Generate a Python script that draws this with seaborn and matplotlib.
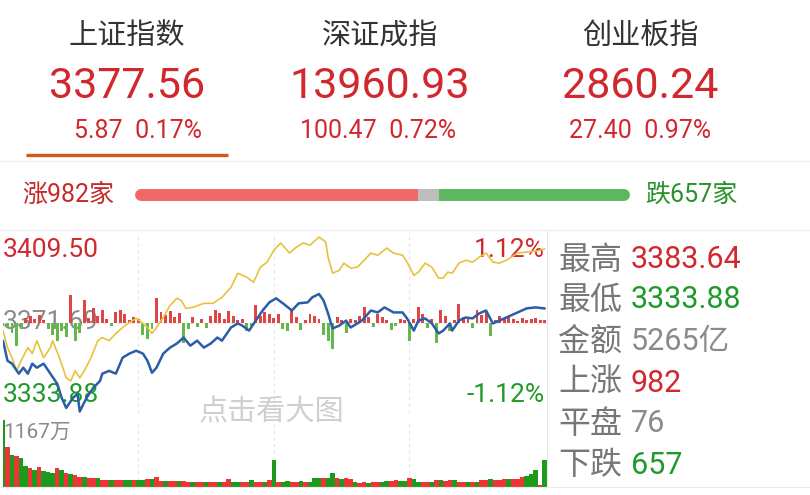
import numpy as np
import pandas as pd
import matplotlib
matplotlib.use("Agg")
import matplotlib.pyplot as plt
import seaborn as sns

# ---------------- data ----------------
index_names = ["上证指数", "深证成指", "创业板指"]
index_values = ["3377.56", "13960.93", "2860.24"]
index_changes = ["5.87  0.17%", "100.47  0.72%", "27.40  0.97%"]
up_count, flat_count, down_count = 982, 76, 657

prev_close = 3371.69
axis_high = 3409.50
axis_low = 3333.88
pct_labels = ["1.12%", "-1.12%"]
volume_max_label = "1167万"
volume_max = 1167

price_minutes = [0, 2, 4, 7, 9, 11, 13, 15, 18, 21, 24, 26, 28, 31, 33, 34, 37, 40, 43, 44,
                 47, 50, 53, 56, 59, 62, 64, 66, 68, 71, 74, 77, 80, 83, 86, 89, 92, 95, 97, 101,
                 104, 106, 109, 112, 115, 118, 121, 124, 128, 131, 135, 137, 140, 142, 144, 146, 149, 152, 154, 157,
                 159, 163, 166, 169, 173, 177, 179, 182, 184, 187, 190, 193, 195, 198, 199, 202, 205, 208, 211, 214,
                 217, 220, 223, 228, 232, 236, 240]
price_values = [3364.1, 3355.7, 3354.5, 3350.3, 3352.8, 3350.3, 3354.5, 3352.8, 3354.5, 3350.3,
                3346.1, 3340.2, 3336.0, 3340.2, 3341.9, 3334.5, 3340.2, 3344.4, 3347.3, 3350.3,
                3351.5, 3350.3, 3357.0, 3358.7, 3359.9, 3358.7, 3355.7, 3350.7, 3352.8, 3358.7,
                3361.2, 3362.9, 3365.4, 3362.0, 3364.1, 3361.2, 3362.9, 3365.4, 3364.1, 3369.6,
                3371.3, 3370.4, 3368.3, 3372.5, 3376.7, 3380.1, 3381.8, 3379.7, 3376.7, 3379.7,
                3380.1, 3382.2, 3383.6, 3380.9, 3375.5, 3369.2, 3370.4, 3372.5, 3369.6, 3371.3,
                3372.5, 3376.7, 3375.9, 3378.0, 3375.9, 3375.9, 3373.4, 3368.3, 3372.5, 3373.4,
                3371.3, 3367.1, 3368.3, 3371.3, 3368.3, 3372.5, 3373.8, 3373.4, 3375.5, 3376.7,
                3371.3, 3372.5, 3373.8, 3375.9, 3377.6, 3378.0, 3377.56]

lead_minutes = [0, 2, 4, 6, 8, 11, 13, 15, 18, 21, 22, 25, 28, 30, 32, 34, 36, 39, 42, 44,
                47, 50, 53, 56, 59, 62, 64, 66, 68, 71, 74, 77, 79, 81, 84, 89, 93, 97, 101, 104,
                108, 111, 114, 117, 120, 123, 127, 130, 133, 136, 140, 143, 144, 146, 149, 151, 154, 157, 160, 163,
                166, 170, 173, 177, 179, 182, 184, 187, 190, 193, 195, 197, 199, 202, 205, 208, 211, 214, 217, 220,
                223, 228, 232, 236, 240]
lead_values = [3368.3, 3361.2, 3357.0, 3351.5, 3355.7, 3361.2, 3358.7, 3364.1, 3357.0, 3361.2,
               3364.1, 3357.0, 3348.6, 3347.3, 3351.5, 3348.6, 3351.5, 3357.0, 3364.1, 3365.4,
               3364.1, 3367.1, 3369.6, 3371.7, 3373.4, 3371.3, 3369.6, 3367.1, 3369.6, 3373.8,
               3378.8, 3381.8, 3380.9, 3377.6, 3378.0, 3379.7, 3379.7, 3382.2, 3386.4, 3392.3,
               3390.6, 3388.5, 3394.8, 3396.9, 3401.9, 3404.9, 3400.7, 3403.2, 3404.9, 3404.0,
               3407.4, 3405.3, 3399.0, 3392.3, 3393.5, 3396.5, 3394.4, 3394.8, 3397.7, 3400.7,
               3399.8, 3402.8, 3400.7, 3399.8, 3396.9, 3391.4, 3392.7, 3396.5, 3394.8, 3390.2,
               3390.2, 3392.7, 3392.3, 3396.5, 3397.7, 3396.9, 3399.0, 3400.7, 3396.9, 3396.5,
               3397.7, 3400.7, 3401.1, 3401.5, 3402.4]

# buy/sell strength bars, one per 2 minutes
strength_values = [-3, -5, -10, -23, -6, 4, 6, 3, 7, 2,
                   -6, -12, -18, -8, -14, 27, -18, -10, 22, 4,
                   14, 6, 12, 3, -3, 10, 12, 8, 2, 5,
                   3, -12, -16, -6, 24, 10, 7, 11, 5, 9,
                   -20, -6, 5, -4, 3, -5, 6, 12, 9, 3,
                   11, 6, 2, 3, -8, -3, 17, 6, 10, 8,
                   4, 8, -6, -8, 12, 5, -7, 2, 8, 6,
                   3, -12, -18, -26, 5, 2, -10, 3, 2, 6,
                   15, 5, -4, 8, 5, 2, -7, -3, 3, 2,
                   -18, 3, 15, 8, -5, 3, -20, 12, 6, -8,
                   2, 18, 5, 4, -5, 12, 7, 10, -13, 2,
                   6, 4, 5, 3, 1, 4, 2, 3, 4, 2,
                   2]

# volume (万手), one per 2 minutes
volume_values = [1167, 700, 560, 540, 500, 370, 330, 300, 340, 270,
                 260, 250, 330, 300, 240, 220, 210, 180, 170, 160,
                 160, 150, 130, 120, 125, 115, 130, 120, 125, 118,
                 122, 125, 140, 140, 170, 105, 100, 110, 105, 100,
                 105, 90, 95, 88, 92, 90, 85, 90, 95, 92,
                 140, 90, 92, 88, 95, 120, 90, 88, 92, 120,
                 470, 95, 92, 98, 95, 90, 100, 95, 92, 160,
                 150, 165, 155, 240, 150, 145, 160, 140, 80, 75,
                 82, 78, 80, 85, 80, 110, 105, 115, 110, 108,
                 150, 145, 85, 80, 88, 82, 120, 130, 110, 125,
                 115, 90, 88, 92, 85, 90, 130, 125, 135, 128,
                 130, 140, 138, 142, 145, 170, 200, 220, 290, 40,
                 470]
volume_dirs = ("GRGRGGRGRG" "GGRGRGRRGR" "RGRRGRRGGR" "GGRGRRGRRG" "RRGRRGRRGR"
               "RGGRRGRRGR" "GRGGRRGRGG" "GRGGRGRRGR" "RGRRGGRRGG" "RGGRRGRGRR"
               "GRRGRGRRGR" "RRGRRRGGGR" "G")

stat_labels = ["最高", "最低", "金额", "上涨", "平盘", "下跌"]
stat_values = ["3383.64", "3333.88", "5265亿", "982", "76", "657"]

# ---------------- style ----------------
RED = "#d0282e"
GREEN = "#1e9a28"
GRAY = "#8a8a8a"
DARK = "#333333"
sns.set_theme(style="white")
plt.rcParams["font.family"] = ["Roboto", "Noto Sans CJK SC", "DejaVu Sans"]
plt.rcParams["axes.unicode_minus"] = False

W, H = 810, 495
fig = plt.figure(figsize=(W / 100, H / 100), dpi=100)
fig.patch.set_facecolor("white")


def fx(x):
    return x / W


def fy(y):
    return 1 - y / H


def hline(y, x0=0, x1=W, color="#ececec", lw=0.8):
    fig.add_artist(plt.Line2D([fx(x0), fx(x1)], [fy(y), fy(y)], color=color, lw=lw,
                              transform=fig.transFigure))


# ---------------- header ----------------
centers = [127, 380, 640]
change_centers = [138, 378, 640]
for i in range(3):
    fig.text(fx(centers[i]), fy(36), index_names[i], ha="center", va="center",
             fontsize=21, color=DARK)
    fig.text(fx(centers[i]), fy(86), index_values[i], ha="center", va="center",
             fontsize=31, color=RED)
    fig.text(fx(change_centers[i]), fy(131), index_changes[i], ha="center", va="center",
             fontsize=18, color=RED)

fig.add_artist(plt.Line2D([fx(26), fx(228)], [fy(155), fy(155)], color="#d9561a", lw=2.4,
                          transform=fig.transFigure, solid_capstyle="butt"))
hline(161)
hline(230)
hline(487)

# advance / decline bar
fig.text(fx(22), fy(195), f"涨{up_count}家", ha="left", va="center", fontsize=18, color="#c62a2a")
fig.text(fx(645), fy(195), f"跌{down_count}家", ha="left", va="center", fontsize=18, color="#2a922a")
ax_b = fig.add_axes([fx(141), fy(201), fx(624) - fx(141), 12 / H])
ax_b.set_axis_off()
total = up_count + flat_count + down_count
ax_b.set_xlim(0, total)
ax_b.set_ylim(-1, 1)
ax_b.plot([0, up_count], [0, 0], color="#f06868", lw=8.6, solid_capstyle="round", clip_on=False)
ax_b.plot([up_count + flat_count, total], [0, 0], color="#5cb85c", lw=8.6,
          solid_capstyle="round", clip_on=False)
ax_b.plot([up_count, up_count + flat_count], [0, 0], color="#bdbdbd", lw=8.6,
          solid_capstyle="butt", clip_on=False)

# ---------------- intraday chart ----------------
rect = [fx(3), fy(413), fx(547) - fx(3), (413 - 232) / H]
ax_s = fig.add_axes(rect)       # strength bars (bottom layer)
ax_p = fig.add_axes(rect)       # price lines (top layer)
ax_p.patch.set_alpha(0)

for a in (ax_s, ax_p):
    a.set_xlim(0, 241)
    a.set_xticks([])
    a.set_yticks([])
    for s in a.spines.values():
        s.set_visible(False)

bar_minutes = np.arange(0, 241, 2)
sdf = pd.DataFrame({"minute": bar_minutes, "value": strength_values})
s_colors = np.where(sdf["value"] > 0, "#e04545", "#62b84a")
ax_s.bar(sdf["minute"], sdf["value"], width=1.3, color=s_colors, linewidth=0, zorder=3)
ax_s.set_xlim(0, 241)
ax_s.set_ylim(-90, 90)

# grid lines
for m in (60, 120, 180):
    ax_s.axvline(m, color="#e4e4e4", lw=0.8, ls=(0, (3, 3)), zorder=0)
ax_s.axhline(0, color="#e4e4e4", lw=0.8, ls=(0, (3, 3)), zorder=0)
ax_s.axhline(-90, color="#ececec", lw=0.8, ls=(0, (3, 3)), zorder=0)

# axis labels (under the bars and lines)
lab_fs = 19
ax_s.text(0.0, 0.90, f"{axis_high:.2f}", transform=ax_s.transAxes, ha="left", va="center",
          fontsize=lab_fs, color=RED, zorder=1)
ax_s.text(0.0, 0.503, f"{prev_close:.2f}", transform=ax_s.transAxes, ha="left", va="center",
          fontsize=lab_fs, color=GRAY, zorder=1)
ax_s.text(0.0, 0.10, f"{axis_low:.2f}", transform=ax_s.transAxes, ha="left", va="center",
          fontsize=lab_fs, color=GREEN, zorder=1)
ax_s.text(0.996, 0.90, pct_labels[0], transform=ax_s.transAxes, ha="right", va="center",
          fontsize=lab_fs, color=RED, zorder=1)
ax_s.text(0.996, 0.10, pct_labels[1], transform=ax_s.transAxes, ha="right", va="center",
          fontsize=lab_fs, color=GREEN, zorder=1)

ax_p.set_ylim(axis_low, axis_high)
sns.lineplot(x=lead_minutes, y=lead_values, color="#e7c23c", lw=1.2, ax=ax_p)
sns.lineplot(x=price_minutes, y=price_values, color="#2a5ea8", lw=1.8, ax=ax_p)
ax_p.set_xlim(0, 241)
ax_p.set_ylim(axis_low, axis_high)

# volume panel
ax_v = fig.add_axes([fx(3), fy(487), fx(547) - fx(3), (487 - 420) / H])
vdf = pd.DataFrame({"minute": bar_minutes, "volume": volume_values, "dir": list(volume_dirs)})
v_colors = vdf["dir"].map({"R": "#ee3434", "G": "#1c9a1c"})
ax_v.bar(vdf["minute"], vdf["volume"], width=2.0, color=v_colors, linewidth=0, zorder=3)
ax_v.set_xlim(0, 241)
ax_v.set_ylim(0, volume_max)
ax_v.set_xticks([])
ax_v.set_yticks([])
for s in ax_v.spines.values():
    s.set_visible(False)
for m in (60, 120, 180):
    ax_v.axvline(m, color="#e4e4e4", lw=0.8, ls=(0, (3, 3)), zorder=0)
ax_v.patch.set_alpha(0)

fig.text(fx(3), fy(432), volume_max_label, ha="left", va="center", fontsize=15, color=GRAY)
fig.text(fx(272), fy(412), "点击看大图", ha="center", va="center", fontsize=21, color="#cfcfcf")

# separator between chart and stats
fig.add_artist(plt.Line2D([fx(547), fx(547)], [fy(231), fy(487)], color="#e6e6e6", lw=0.8,
                          transform=fig.transFigure))

# ---------------- stats panel ----------------
stat_rows = [260, 300, 342, 383, 424, 465]
stat_colors = [RED, GREEN, GRAY, RED, GRAY, GREEN]
for lab, val, yy, c in zip(stat_labels, stat_values, stat_rows, stat_colors):
    fig.text(fx(558), fy(yy), lab, ha="left", va="center", fontsize=23, color="#777777")
    fig.text(fx(631), fy(yy), val, ha="left", va="center", fontsize=22, color=c)

fig.savefig("out.png", dpi=100, facecolor="white")
